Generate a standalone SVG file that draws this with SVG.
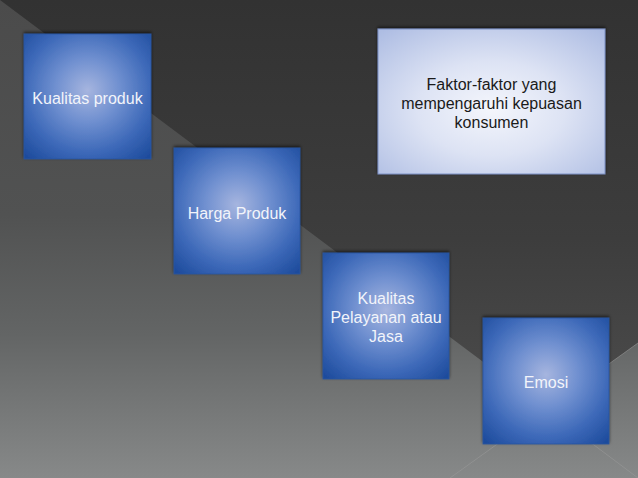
<svg xmlns="http://www.w3.org/2000/svg" width="638" height="478" viewBox="0 0 638 478">
  <defs>
    <linearGradient id="bgLight" x1="0" y1="0" x2="0" y2="1">
      <stop offset="0" stop-color="#4b4b4b"/>
      <stop offset="0.45" stop-color="#515252"/>
      <stop offset="0.7" stop-color="#636565"/>
      <stop offset="1" stop-color="#878989"/>
    </linearGradient>
    <linearGradient id="bgDark" x1="0" y1="0" x2="0" y2="478" gradientUnits="userSpaceOnUse">
      <stop offset="0" stop-color="#323232"/>
      <stop offset="0.5" stop-color="#3d3d3d"/>
      <stop offset="0.85" stop-color="#4c4c4c"/>
    </linearGradient>
    <radialGradient id="blueFill" cx="0.5" cy="0.45" r="0.72">
      <stop offset="0" stop-color="#a6b5df"/>
      <stop offset="0.35" stop-color="#7090d0"/>
      <stop offset="0.7" stop-color="#3c68b8"/>
      <stop offset="1" stop-color="#1d4b9c"/>
    </radialGradient>
    <radialGradient id="titleFill" cx="0.5" cy="0.55" r="0.72">
      <stop offset="0" stop-color="#f4f6fc"/>
      <stop offset="0.45" stop-color="#dde3f4"/>
      <stop offset="1" stop-color="#aebde3"/>
    </radialGradient>
    <filter id="shadow" x="-10%" y="-10%" width="120%" height="120%">
      <feDropShadow dx="0" dy="-1.5" stdDeviation="1.5" flood-color="#000" flood-opacity="0.6"/>
    </filter>
  </defs>
  <style>
    .box { fill: url(#blueFill); stroke: #2a55a0; stroke-width: 0.8; filter: url(#shadow); }
    .title { fill: url(#titleFill); stroke: #7d92c6; stroke-width: 1; filter: url(#shadow); }
    .lbl { font-family: "Liberation Sans", Arial, sans-serif; font-size: 16px; fill: #f2f4fa; text-anchor: middle; }
    .tlbl { font-family: "Liberation Sans", Arial, sans-serif; font-size: 16px; fill: #1a1a1a; text-anchor: middle; }
    .hl { stroke: #9a9a9a; stroke-width: 1; stroke-opacity: 0.55; fill: none; }
  </style>

  <!-- background -->
  <rect x="0" y="0" width="638" height="478" fill="url(#bgLight)"/>
  <polygon points="0,0 638,0 638,343 546,409" fill="url(#bgDark)"/>
  <line class="hl" x1="450" y1="478" x2="638" y2="343"/>
  <line class="hl" x1="546" y1="409" x2="638" y2="478"/>

  <g id="connectors"></g>

  <g id="node-kualitas-produk">
    <rect class="box" x="24" y="34" width="127" height="125"/>
    <text class="lbl" x="87.5" y="104">Kualitas produk</text>
  </g>

  <g id="node-harga-produk">
    <rect class="box" x="174" y="148" width="126" height="126"/>
    <text class="lbl" x="237" y="219">Harga Produk</text>
  </g>

  <g id="node-kualitas-pelayanan">
    <rect class="box" x="323" y="253" width="126" height="126"/>
    <text class="lbl" x="386" y="304">Kualitas</text>
    <text class="lbl" x="386" y="323">Pelayanan atau</text>
    <text class="lbl" x="386" y="342">Jasa</text>
  </g>

  <g id="node-emosi">
    <rect class="box" x="483" y="318" width="126" height="126"/>
    <text class="lbl" x="546" y="388">Emosi</text>
  </g>

  <g id="node-title">
    <rect class="title" x="378" y="29" width="227" height="145"/>
    <text class="tlbl" x="491.5" y="90">Faktor-faktor yang</text>
    <text class="tlbl" x="491.5" y="109">mempengaruhi kepuasan</text>
    <text class="tlbl" x="491.5" y="128">konsumen</text>
  </g>
</svg>
